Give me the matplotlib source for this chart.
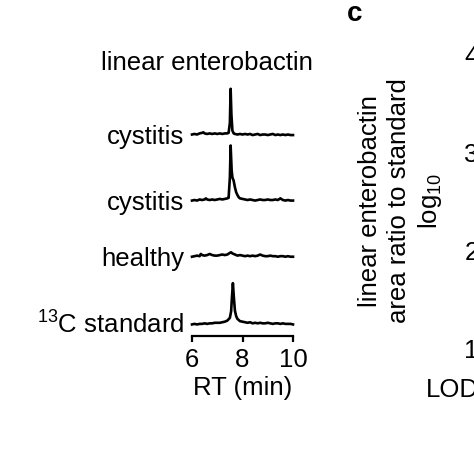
import matplotlib
matplotlib.use('Agg')
import matplotlib.pyplot as plt

plt.rcParams['font.family'] = ['Liberation Sans', 'DejaVu Sans']
plt.rcParams['mathtext.fontset'] = 'custom'
plt.rcParams['mathtext.rm'] = 'Liberation Sans'
plt.rcParams['font.size'] = 18.5

# chromatogram traces (intensity, tallest peak = 100)
rt_cys1 = [6.0, 6.1, 6.2, 6.3, 6.4, 6.45, 6.5, 6.6, 6.7, 6.8, 6.9, 7.0, 7.1, 7.2,
           7.3, 7.4, 7.45, 7.5, 7.53, 7.56, 7.6, 7.65, 7.7, 7.8, 7.9, 8.0, 8.1,
           8.2, 8.3, 8.4, 8.5, 8.6, 8.7, 8.8, 8.9, 9.0, 9.1, 9.2, 9.3, 9.4, 9.5,
           9.6, 9.7, 9.8, 9.9, 10.0]
int_cys1 = [1, 2, 1, 3, 4, 5, 3, 2, 3, 2, 3, 2, 3, 2,
            3, 3, 4, 22, 84, 38, 8, 3, 2, 1, 2, 1, 2,
            1, 2, 0, 1, 2, 0, 1, 1, 0, 1, 2, 0, 1, 0,
            1, 0, 1, 0, 0]

rt_cys2 = [6.0, 6.1, 6.2, 6.3, 6.4, 6.5, 6.55, 6.6, 6.7, 6.8, 6.9, 7.0, 7.1, 7.2,
           7.3, 7.4, 7.45, 7.5, 7.53, 7.57, 7.6, 7.65, 7.7, 7.75, 7.8, 7.85, 7.9,
           8.0, 8.1, 8.2, 8.3, 8.4, 8.5, 8.6, 8.7, 8.8, 8.9, 9.0, 9.1, 9.2, 9.3,
           9.4, 9.5, 9.6, 9.7, 9.8, 9.9, 10.0]
int_cys2 = [0, 1, 0, 2, 1, 2, 4, 2, 1, 2, 1, 2, 3, 2,
            3, 4, 5, 42, 100, 55, 42, 36, 24, 15, 10, 6, 4,
            3, 2, 1, 2, 1, 0, 1, 2, 1, 1, 2, 1, 1, 2,
            1, 4, 1, 0, 1, 0, 0]

rt_healthy = [6.0, 6.1, 6.2, 6.3, 6.35, 6.4, 6.5, 6.6, 6.7, 6.8, 6.9, 7.0, 7.1,
              7.2, 7.3, 7.4, 7.5, 7.55, 7.6, 7.7, 7.8, 7.9, 8.0, 8.1, 8.2, 8.3,
              8.4, 8.5, 8.6, 8.7, 8.8, 8.9, 9.0, 9.1, 9.2, 9.3, 9.4, 9.5, 9.6,
              9.7, 9.8, 9.9, 10.0]
int_healthy = [0, 1, 2, 1, 5, 3, 2, 3, 5, 3, 2, 2, 3,
               4, 3, 4, 7, 8, 6, 4, 2, 3, 2, 1, 2, 1,
               2, 1, 2, 4, 2, 1, 1, 2, 1, 1, 0, 1, 1,
               0, 1, 0, 0]

rt_std = [6.0, 6.1, 6.2, 6.3, 6.4, 6.5, 6.6, 6.7, 6.8, 6.9, 7.0, 7.1, 7.2, 7.3,
          7.4, 7.5, 7.55, 7.58, 7.62, 7.66, 7.7, 7.75, 7.8, 7.85, 7.9, 8.0, 8.1,
          8.2, 8.3, 8.4, 8.5, 8.6, 8.7, 8.8, 8.9, 9.0, 9.1, 9.2, 9.3, 9.4, 9.5,
          9.6, 9.7, 9.8, 9.9, 10.0]
int_std = [0, 1, 0, 1, 1, 2, 1, 2, 2, 3, 3, 3, 4, 5,
           7, 12, 24, 48, 75, 48, 25, 15, 10, 8, 6, 5, 4,
           3, 4, 2, 3, 2, 3, 2, 2, 3, 2, 1, 2, 2, 1,
           2, 1, 1, 1, 0]

traces = [(rt_cys1, int_cys1), (rt_cys2, int_cys2),
          (rt_healthy, int_healthy), (rt_std, int_std)]
row_labels = ['cystitis', 'cystitis', 'healthy', r'$\mathregular{^{13}}$C standard']
offsets = [365, 246, 144, 21]

xticks = [6, 8, 10]

# panel c axis (only its tick labels are inside the crop)
c_ticks = [0.6, 1, 2, 3, 4]
c_ticklabels = ['LOD', '1', '2', '3', '4']

fig = plt.figure(figsize=(4.74, 4.74), dpi=100)

W = 474.0
ax = fig.add_axes([192 / W, (W - 336) / W, 101 / W, 256 / W])
for (rt, inten), off, lab in zip(traces, offsets, row_labels):
    ax.plot(rt, [v + off for v in inten], color='black', lw=1.9,
            solid_joinstyle='round', clip_on=False)
    ax.text(5.7, off - 17, lab, ha='right', va='baseline')

ax.set_xlim(6, 10)
ax.set_ylim(0, 465)
ax.set_xticks(xticks)
ax.set_yticks([])
for s in ['left', 'right', 'top']:
    ax.spines[s].set_visible(False)
ax.spines['bottom'].set_linewidth(1.6)
ax.tick_params(axis='x', direction='out', length=4.5, width=1.6, pad=4)
ax.set_xlabel('RT (min)', labelpad=3)

fig.text(207 / W, 1 - 70 / W, 'linear enterobactin', ha='center', va='baseline')
fig.text(347 / W, 1 - 21 / W, 'c', ha='left', va='baseline', fontweight='bold',
         fontsize=20)
fig.text(401 / W, 1 - 201 / W,
         'linear enterobactin\narea ratio to standard\n$\\mathregular{log_{10}}$',
         rotation=90, ha='center', va='center', multialignment='center',
         linespacing=1.25)

ax2 = fig.add_axes([492 / W, (W - 416.4) / W, 0.4, 390.8 / W])
ax2.set_ylim(0.3, 4.3)
ax2.set_yticks(c_ticks)
ax2.set_yticklabels(c_ticklabels)
ax2.set_xticks([])
ax2.tick_params(axis='y', direction='out', length=4.5, width=1.6, pad=5)

fig.savefig('out.png', dpi=100)
